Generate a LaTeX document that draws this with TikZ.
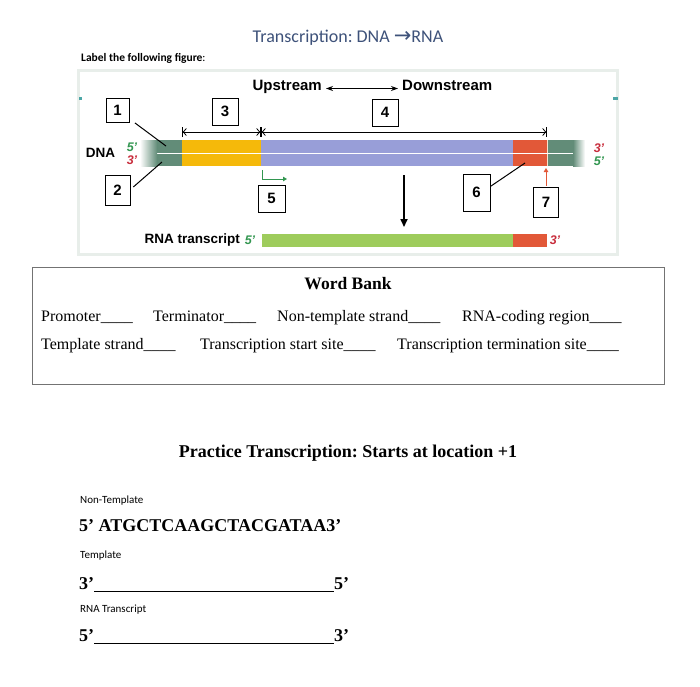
\documentclass[tikz,border=0pt]{standalone}
\usepackage{fontspec}
\setmainfont{Liberation Serif}
\newfontfamily\calibri{Carlito}
\newfontfamily\figsans{Liberation Sans}
\newfontfamily\symbols{DejaVu Sans}
\usetikzlibrary{arrows.meta}
\definecolor{dnagray}{RGB}{98,140,120}
\definecolor{promyellow}{RGB}{245,185,10}
\definecolor{codeblue}{RGB}{152,158,216}
\definecolor{termred}{RGB}{226,88,56}
\definecolor{rnagreen}{RGB}{158,204,92}
\definecolor{endgreen}{RGB}{50,150,80}
\definecolor{endred}{RGB}{200,45,60}
\definecolor{titleblue}{RGB}{62,82,122}
\definecolor{framegray}{RGB}{232,238,234}
\definecolor{gapcolor}{RGB}{250,226,204}
\frenchspacing
\begin{document}
\begin{tikzpicture}[x=1pt,y=-1pt,
  numbox/.style={draw, line width=0.6pt, fill=white, inner sep=0pt, font=\figsans\bfseries\fontsize{15}{15}\selectfont},
  figlabel/.style={inner sep=2pt, font=\figsans\bfseries\fontsize{15}{15}\selectfont},
  sidelabel/.style={inner sep=2pt, font=\figsans\bfseries\fontsize{13.5}{13.5}\selectfont},
  endlabel/.style={inner sep=0pt, font=\figsans\bfseries\itshape\fontsize{12.5}{12.5}\selectfont},
  pointer/.style={line width=1pt},
  bracket/.style={line width=0.8pt, {Bar[width=10pt]Straight Barb[length=3pt,width=7pt]}-{Straight Barb[length=3pt,width=7pt]Bar[width=10pt]}},
  bank/.style={anchor=base west, inner sep=0pt, font=\fontsize{16}{16}\selectfont},
  small/.style={anchor=base west, inner sep=0pt, font=\calibri\fontsize{11}{11}\selectfont},
  seq/.style={anchor=base west, inner sep=0pt, font=\bfseries\fontsize{18}{18}\selectfont}]
\useasboundingbox[fill=white] (0,0) rectangle (700,686);
\node[anchor=base, inner sep=0pt, text=titleblue, font=\calibri\fontsize{18}{18}\selectfont] (title) at (348,42) {Transcription: DNA {\symbols\fontsize{21}{21}\selectfont →}RNA};
\node[anchor=base west, inner sep=0pt, font=\calibri\fontsize{11.5}{11.5}\selectfont] (instr) at (81,61) {\textbf{Label the following figure}:};
\draw[framegray, line width=3pt] (78,70) rectangle (617,254);
\fill[teal!70] (79,97) rectangle (82,99.5);
\fill[teal!70] (613,97) rectangle (618,99.5);
\foreach \t/\b in {140/152.6,153.6/166}{
  \shade[left color=white, right color=dnagray] (140,\t) rectangle (157,\b);
  \fill[dnagray] (157,\t) rectangle (182,\b);
  \fill[promyellow] (182,\t) rectangle (261,\b);
  \fill[codeblue] (261,\t) rectangle (513,\b);
  \fill[termred] (513,\t) rectangle (546.5,\b);
  \fill[gapcolor] (546.5,\t) rectangle (547.5,\b);
  \fill[dnagray] (547.5,\t) rectangle (573,\b);
  \shade[left color=dnagray, right color=white] (573,\t) rectangle (585,\b);
}
\node[sidelabel] (dna) at (100.5,153) {DNA};
\node[endlabel, text=endgreen] (dna5) at (132,147) {5’};
\node[endlabel, text=endred] (dna3) at (132,160) {3’};
\node[endlabel, text=endred] (end3) at (599,148) {3’};
\node[endlabel, text=endgreen] (end5) at (599,161) {5’};
\node[figlabel, anchor=mid east] (up) at (324,88.5) {Upstream};
\node[figlabel, anchor=mid west] (down) at (400,88.5) {Downstream};
\draw[line width=0.9pt, {Stealth[length=7pt,width=5pt]}-{Stealth[length=7pt,width=5pt]}, shorten <=2pt, shorten >=2pt] (up.mid east) -- (down.mid west);
\coordinate (promstart) at (182,132);
\coordinate (tss) at (261,132);
\coordinate (termend) at (547,132);
\draw[bracket] (promstart) -- (tss);
\draw[bracket] (tss) -- (termend);
\node[numbox, minimum width=23pt, minimum height=24pt] (box1) at (117.5,110) {1};
\node[numbox, minimum width=25pt, minimum height=30pt] (box2) at (117.5,190) {2};
\node[numbox, minimum width=26pt, minimum height=27pt] (box3) at (225,111.5) {3};
\node[numbox, minimum width=26pt, minimum height=27pt] (box4) at (385,112.5) {4};
\node[numbox, minimum width=27pt, minimum height=27pt] (box5) at (271.5,198.5) {5};
\node[numbox, minimum width=27pt, minimum height=37pt] (box6) at (476.5,192.5) {6};
\node[numbox, minimum width=25pt, minimum height=30pt] (box7) at (546,202) {7};
\coordinate (p1) at (166,146);
\coordinate (p2) at (162,162);
\coordinate (p6) at (525,163);
\coordinate (p7) at (546,168);
\coordinate (startbend) at (262,170);
\draw[pointer, shorten <=7pt] (box1) -- (p1);
\draw[pointer] ([shift={(3,-3)}]box2.east) -- (p2);
\draw[pointer] ([shift={(0,-6)}]box6.east) -- (p6);
\draw[termred, line width=1pt, -{Triangle[length=4pt,width=4.5pt]}, shorten <=1pt] (box7.north) -- (p7);
\draw[endgreen, line width=1pt, -{Triangle[length=4pt,width=4.5pt]}] (startbend) -- ++(0,9) -- ++(25,0);
\coordinate (flowtop) at (404,175);
\coordinate (flowbot) at (404,227);
\draw[line width=1.6pt, -{Triangle[length=8pt,width=7pt]}] (flowtop) -- (flowbot);
\fill[rnagreen] (262,233.5) rectangle (513,246.5);
\fill[termred] (513,233.5) rectangle (547,246.5);
\node[sidelabel, anchor=east] (rna) at (242,240) {RNA transcript};
\node[endlabel, text=endgreen] (rna5) at (250,240) {5’};
\node[endlabel, text=endred] (rna3) at (555,240) {3’};
\draw[line width=0.8pt, black!55] (32,267.5) rectangle (664,384.5);
\node[anchor=base, inner sep=0pt, font=\bfseries\fontsize{17.5}{17.5}\selectfont] (bank) at (348,289) {Word Bank};
\node[bank] (promoter) at (41,321) {Promoter\_\_\_\_};
\node[bank] (terminator) at (153,321) {Terminator\_\_\_\_};
\node[bank] (nontemplate) at (277,321) {Non-template strand\_\_\_\_};
\node[bank] (coding) at (462,321) {RNA-coding region\_\_\_\_};
\node[bank] (template) at (41,349) {Template strand\_\_\_\_};
\node[bank] (startsite) at (200,349) {Transcription start site\_\_\_\_};
\node[bank] (termsite) at (397,349) {Transcription termination site\_\_\_\_};
\node[anchor=base, inner sep=0pt, font=\bfseries\fontsize{18}{18}\selectfont] (practice) at (348,457) {Practice Transcription: Starts at location +1};
\node[small] (ntlabel) at (80,503) {Non-Template};
\node[seq] (ntseq) at (79,531) {5’ ATGCTCAAGCTACGATAA3’};
\node[small] (tlabel) at (80,558) {Template};
\node[seq] (t3) at (79,589) {3’};
\node[seq] (t5) at (334,589) {5’};
\draw[line width=1pt] ([yshift=-2pt]t3.base east) -- ([yshift=-2pt]t5.base west);
\node[small] (rlabel) at (80,612) {RNA Transcript};
\node[seq] (r5) at (79,641) {5’};
\node[seq] (r3) at (334,641) {3’};
\draw[line width=1pt] ([yshift=-2pt]r5.base east) -- ([yshift=-2pt]r3.base west);
\end{tikzpicture}
\end{document}
